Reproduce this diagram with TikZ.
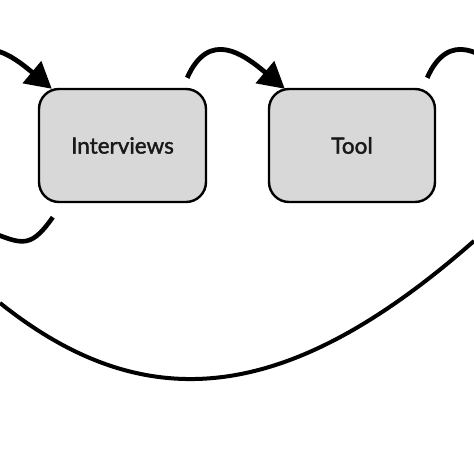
\documentclass[tikz,border=0pt]{standalone}
\usepackage{fontspec}
\setmainfont{Lato}
\newfontfamily\labelfont[FakeBold=1.6]{Lato}
\usetikzlibrary{arrows.meta}
\definecolor{boxgray}{HTML}{D8D8D8}
\tikzset{
  stage/.style={draw=black, line width=2.4pt, fill=boxgray, rounded corners=20pt,
    minimum height=113pt, inner sep=0pt, text=black!90,
    font=\labelfont\fontsize{22.5}{26}\selectfont},
  flow/.style={line width=4.8pt, -{Triangle[length=26pt,width=28pt]}},
  flowline/.style={line width=4.6pt},
  backline/.style={line width=4pt}
}
\begin{document}
\begin{tikzpicture}[x=1pt,y=1pt]
\useasboundingbox (0,0) rectangle (474,474);
\clip (0,0) rectangle (474,474);
\node[stage, minimum width=167pt] (iv) at (122.5,328.5) {Interviews};
\node[stage, minimum width=166pt] (tool) at (352,328.5) {Tool};
% free ends outside the frame
\coordinate (prevout) at (-46,396);
\coordinate (nextin) at (525,385);
\coordinate (prevback) at (-20,246);
\coordinate (loopl) at (0,171);
\coordinate (loopr) at (474,233);
\coordinate (loopc1) at (150,51);
\coordinate (loopc2) at (293,74);
% arrows
\draw[flow] (prevout) to[out=66,in=140,looseness=1.4] ([xshift=14pt,yshift=-1pt]iv.north west);
\draw[flow] ([xshift=-20pt,yshift=10pt]iv.north east) to[out=66,in=140,looseness=1.4] ([xshift=17pt,yshift=-1pt]tool.north west);
\draw[flow] ([xshift=-9pt,yshift=10pt]tool.north east) to[out=66,in=140,looseness=1.4] (nextin);
\draw[flowline] ([xshift=15pt,yshift=-14pt]iv.south west) to[out=235,in=-20,looseness=1.5] (prevback);
\draw[backline] (loopl) .. controls (loopc1) and (loopc2) .. (loopr);
\end{tikzpicture}
\end{document}
